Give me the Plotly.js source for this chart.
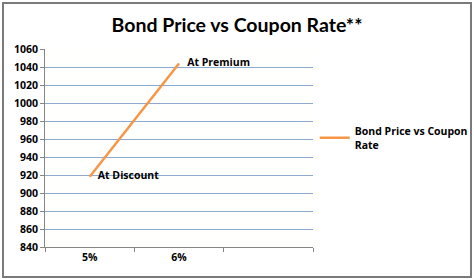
<!DOCTYPE html>
<html>
<head>
<meta charset="utf-8">
<script src="https://cdn.plot.ly/plotly-3.0.1.min.js"></script>
<style>
html,body{margin:0;padding:0;background:#fff;}
#wrap{position:relative;width:474px;height:279px;}
#chart{width:474px;height:279px;}
#frame{position:absolute;left:2px;top:2px;width:466px;height:272px;border:2px solid #7a7a7a;pointer-events:none;box-sizing:content-box;}
</style>
</head>
<body>
<div id="wrap"><div id="chart"></div><div id="frame"></div></div>
<script>
const categories = ['5%', '6%'];
const allCategories = ['5%', '6%', ' '];
const bondPrices = [918, 1044];
const pointLabels = ['At Discount', 'At Premium'];
const seriesName = 'Bond Price vs Coupon<br>Rate';
const titleText = 'Bond Price vs Coupon Rate**';
const yTicks = [840, 860, 880, 900, 920, 940, 960, 980, 1000, 1020, 1040, 1060];

const FONT = 'Lato, "Open Sans", sans-serif';
const SMALL = '"Open Sans", Lato, sans-serif';

const trace = {
  x: categories,
  y: bondPrices,
  type: 'scatter',
  mode: 'lines+text',
  name: seriesName,
  text: pointLabels.map(t => '\u00a0\u00a0\u00a0<b>' + t + '</b>'),
  textposition: 'middle right',
  textfont: {family: SMALL, size: 10.5, color: '#000'},
  line: {color: '#F79646', width: 2.5},
  cliponaxis: false,
  hoverinfo: 'skip'
};

const layout = {
  width: 474,
  height: 279,
  margin: {l: 45, r: 161, t: 49, b: 32, autoexpand: false},
  paper_bgcolor: '#ffffff',
  plot_bgcolor: '#fffffe',
  font: {family: SMALL, color: '#000'},
  title: {
    text: '<b>' + titleText + '</b>',
    font: {family: FONT, size: 19.5, color: '#000'},
    x: 0.5, xref: 'container', xanchor: 'center',
    y: 0.91, yref: 'container', yanchor: 'middle'
  },
  xaxis: {
    type: 'category',
    categoryorder: 'array',
    categoryarray: allCategories,
    range: [-0.5, 2.5],
    tickson: 'boundaries',
    ticks: 'outside',
    ticklen: 4,
    tickcolor: '#868686',
    showline: true,
    linecolor: '#868686',
    linewidth: 1,
    showgrid: false,
    zeroline: false,
    tickfont: {family: SMALL, size: 10.5, color: '#000', weight: 'bold'},
    fixedrange: true
  },
  yaxis: {
    range: [840, 1060],
    tickvals: yTicks,
    ticktext: yTicks.map(v => '<b>' + v + '</b>'),
    ticks: 'outside',
    ticklen: 4,
    tickcolor: '#868686',
    showline: true,
    linecolor: '#868686',
    linewidth: 1,
    showgrid: true,
    gridcolor: '#8EA9CF',
    gridwidth: 1,
    zeroline: false,
    tickfont: {family: SMALL, size: 10.5, color: '#000', weight: 'bold'},
    fixedrange: true
  },
  showlegend: true,
  legend: {
    xref: 'container', yref: 'container',
    x: 0.664, xanchor: 'left',
    y: 0.505, yanchor: 'middle',
    font: {family: SMALL, size: 10.5, color: '#000', weight: 'bold'},
    bgcolor: 'rgba(0,0,0,0)',
    itemwidth: 30
  }
};

Plotly.newPlot('chart', [trace], layout, {displayModeBar: false, staticPlot: true});
</script>
</body>
</html>
